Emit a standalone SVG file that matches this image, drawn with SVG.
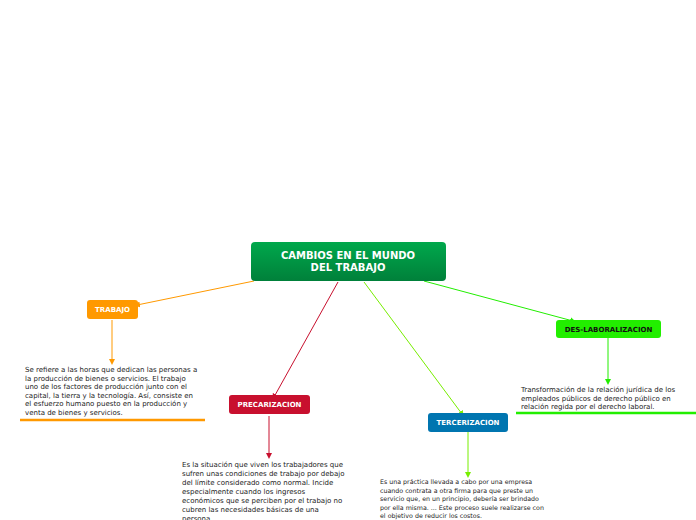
<svg xmlns="http://www.w3.org/2000/svg" width="696" height="520" viewBox="0 0 696 520">
<defs>
<linearGradient id="g" x1="0" y1="0" x2="0" y2="1"><stop offset="0" stop-color="#00a84c"/><stop offset="1" stop-color="#00803a"/></linearGradient>
<marker id="ao" markerWidth="6" markerHeight="6" refX="3" refY="3" orient="auto"><path d="M0,0L6,3L0,6z" fill="#ff9900"/></marker>
<marker id="ar" markerWidth="6" markerHeight="6" refX="3" refY="3" orient="auto"><path d="M0,0L6,3L0,6z" fill="#c8102e"/></marker>
<marker id="ag" markerWidth="6" markerHeight="6" refX="3" refY="3" orient="auto"><path d="M0,0L6,3L0,6z" fill="#77ee00"/></marker>
<marker id="ab" markerWidth="6" markerHeight="6" refX="3" refY="3" orient="auto"><path d="M0,0L6,3L0,6z" fill="#22ee00"/></marker>
</defs>
<style>
text{font-family:Verdana,"DejaVu Sans",sans-serif}
.l{font-size:7px;font-weight:bold;fill:#fff}
.d{font-size:7px;fill:#222}
.s{font-size:6.3px;fill:#222}
</style>
<rect width="696" height="520" fill="#fff"/>
<g id="connectors" fill="none" stroke-width="1">
<path d="M254,281L137,305" stroke="#ff9900" marker-end="url(#ao)"/>
<path d="M112,320V362" stroke="#ff9900" marker-end="url(#ao)"/>
<path d="M338,282L274,397" stroke="#c8102e" marker-end="url(#ar)"/>
<path d="M269,416V456" stroke="#c8102e" marker-end="url(#ar)"/>
<path d="M364,282L462,414" stroke="#77ee00" marker-end="url(#ag)"/>
<path d="M468,432V475" stroke="#77ee00" marker-end="url(#ag)"/>
<path d="M424,281L573,321" stroke="#22ee00" marker-end="url(#ab)"/>
<path d="M608,338V382" stroke="#22ee00" marker-end="url(#ab)"/>
</g>
<g id="root"><rect x="251" y="242" width="195" height="39" rx="4" fill="url(#g)"/>
<text x="348" y="259" text-anchor="middle" style="font-size:10px;font-weight:900;fill:#fff;font-family:'DejaVu Sans',sans-serif">CAMBIOS EN EL MUNDO</text>
<text x="348" y="271" text-anchor="middle" style="font-size:10px;font-weight:900;fill:#fff;font-family:'DejaVu Sans',sans-serif">DEL TRABAJO</text></g>
<g id="trabajo"><rect x="87" y="300" width="51" height="19" rx="3" fill="#ff9900"/><text class="l" x="112.5" y="312" text-anchor="middle">TRABAJO</text>
<text class="d"><tspan x="25" y="372">Se refiere a las horas que dedican las personas a</tspan><tspan x="25" y="380.5">la producción de bienes o servicios. El trabajo</tspan><tspan x="25" y="389">uno de los factores de producción junto con el</tspan><tspan x="25" y="397.5">capital, la tierra y la tecnología. Así, consiste en</tspan><tspan x="25" y="406">el esfuerzo humano puesto en la producción y</tspan><tspan x="25" y="414.5">venta de bienes y servicios.</tspan></text>
<line x1="20" y1="420" x2="205" y2="420" stroke="#ff9900" stroke-width="2.5"/></g>
<g id="precarizacion"><rect x="229" y="395" width="81" height="19" rx="3" fill="#c8102e"/><text class="l" x="269.5" y="407" text-anchor="middle">PRECARIZACION</text>
<text class="d"><tspan x="182" y="467">Es la situación que viven los trabajadores que</tspan><tspan x="182" y="476">sufren unas condiciones de trabajo por debajo</tspan><tspan x="182" y="485">del límite considerado como normal. Incide</tspan><tspan x="182" y="494">especialmente cuando los ingresos</tspan><tspan x="182" y="503">económicos que se perciben por el trabajo no</tspan><tspan x="182" y="512">cubren las necesidades básicas de una</tspan><tspan x="182" y="521">persona.</tspan></text></g>
<g id="tercerizacion"><rect x="428" y="413" width="80" height="19" rx="3" fill="#0075b0"/><text class="l" x="468" y="425" text-anchor="middle">TERCERIZACION</text>
<text class="s"><tspan x="380" y="484">Es una práctica llevada a cabo por una empresa</tspan><tspan x="380" y="492.5">cuando contrata a otra firma para que preste un</tspan><tspan x="380" y="501">servicio que, en un principio, debería ser brindado</tspan><tspan x="380" y="509.5">por ella misma. ... Este proceso suele realizarse con</tspan><tspan x="380" y="518">el objetivo de reducir los costos.</tspan></text></g>
<g id="deslaboralizacion"><rect x="556" y="320" width="105" height="18" rx="3" fill="#22ee00"/><text x="608.5" y="332" text-anchor="middle" style="font-size:7px;font-weight:bold;fill:#111">DES-LABORALIZACION</text>
<text class="d"><tspan x="521" y="392">Transformación de la relación jurídica de los</tspan><tspan x="521" y="400.5">empleados públicos de derecho público en</tspan><tspan x="521" y="409">relación regida por el derecho laboral.</tspan></text>
<line x1="516" y1="413" x2="696" y2="413" stroke="#22ee00" stroke-width="2.5"/></g>
</svg>
